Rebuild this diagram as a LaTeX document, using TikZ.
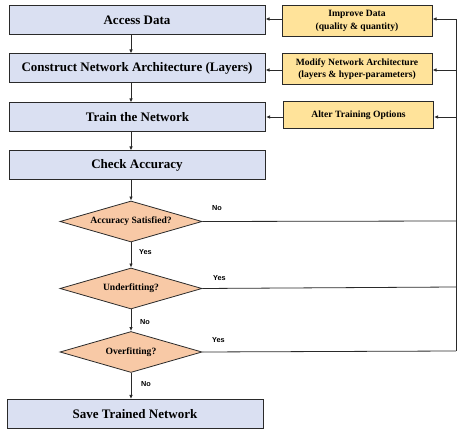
\documentclass[tikz,border=0pt]{standalone}
\usepackage{fontspec}
\setmainfont{Liberation Serif}
\setsansfont{Liberation Sans}
\usetikzlibrary{shapes.geometric,arrows.meta}
\definecolor{boxblue}{HTML}{DAE0F2}
\definecolor{boxyellow}{HTML}{FFE39A}
\definecolor{boxorange}{HTML}{F8C9A6}
\definecolor{linegray}{HTML}{2A2A2A}
\tikzset{
  mainbox/.style={draw=linegray, line width=1pt, fill=boxblue, minimum width=256pt, minimum height=29pt, inner sep=0pt, font=\fontsize{13}{15}\selectfont\bfseries},
  sidebox/.style={draw=linegray, line width=1pt, fill=boxyellow, minimum width=150pt, minimum height=31pt, inner sep=0pt, align=center, font=\fontsize{9.6}{12.5}\selectfont\bfseries},
  decision/.style={diamond, draw=linegray, line width=0.8pt, fill=boxorange, minimum width=142pt, minimum height=41pt, inner sep=0pt, aspect=3.4, font=\fontsize{9.6}{11}\selectfont\bfseries},
  lbl/.style={font=\sffamily\bfseries\fontsize{7.3}{9}\selectfont, inner sep=0pt},
  conn/.style={draw=linegray, line width=0.8pt, -{Latex[length=4pt,width=3.5pt]}},
  plain/.style={draw=linegray, line width=0.8pt},
}
\begin{document}
\begin{tikzpicture}[x=1pt,y=-1pt]
\useasboundingbox (0,0) rectangle (474,435);
% main boxes
\node[mainbox] (access) at (137,20.5) {Access Data};
\node[mainbox] (construct) at (137,68.5) {Construct Network Architecture (Layers)};
\node[mainbox] (train) at (137.5,117.5) {Train the Network};
\node[mainbox] (check) at (137,165.5) {Check Accuracy};
\node[mainbox] (save) at (135,414) {Save Trained Network};
% side boxes
\node[sidebox] (improve) at (357,21) {Improve Data\\(quality \& quantity)};
\node[sidebox] (modify) at (357,69) {Modify Network Architecture\\(layers \& hyper-parameters)};
\node[sidebox, minimum height=27pt] (alter) at (358.5,115.5) {\raisebox{2pt}{Alter Training Options}};
% decisions
\node[decision] (acc) at (131,221.5) {Accuracy Satisfied?};
\node[decision] (under) at (131,288.5) {Underfitting?};
\node[decision] (over) at (131,352) {Overfitting?};
% right bus coordinates
\coordinate (b1) at (456,19);
\coordinate (b2) at (456,70);
\coordinate (b3) at (456,117);
\coordinate (bacc) at (456,221);
\coordinate (bund) at (456,287);
\coordinate (bov) at (456,351);
% main flow
\draw[conn] (access.south -| 131,0) -- (construct.north -| 131,0);
\draw[conn] (construct.south -| 131,0) -- (train.north -| 131,0);
\draw[conn] (train.south -| 131,0) -- (check.north -| 131,0);
\draw[conn] (check.south -| 131,0) -- (acc.north);
\draw[conn] (acc.south) -- (under.north);
\draw[conn] (under.south) -- (over.north);
\draw[conn] (over.south) -- (save.north -| over.south);
% side to main
\draw[conn] (improve.west |- b1) -- (access.east |- b1);
\draw[conn] (modify.west |- b2) -- (construct.east |- b2);
\draw[conn] (alter.west |- b3) -- (train.east |- b3);
% feedback lines
\draw[plain] (acc.east) -- (bacc);
\draw[plain] (under.east) -- (bund);
\draw[plain] (over.east) -- (bov);
\draw[plain] (bov) -- (b1);
\draw[conn] (b1) -- (improve.east |- b1);
\draw[conn] (b2) -- (modify.east |- b2);
\draw[conn] (b3) -- (alter.east |- b3);
% labels
\node[lbl, anchor=west] (l1) at (212,208) {No};
\node[lbl, anchor=west] (l2) at (139,252) {Yes};
\node[lbl, anchor=west] (l3) at (213,278) {Yes};
\node[lbl, anchor=west] (l4) at (140,322) {No};
\node[lbl, anchor=west] (l5) at (212,340) {Yes};
\node[lbl, anchor=west] (l6) at (141,384) {No};
\end{tikzpicture}
\end{document}
